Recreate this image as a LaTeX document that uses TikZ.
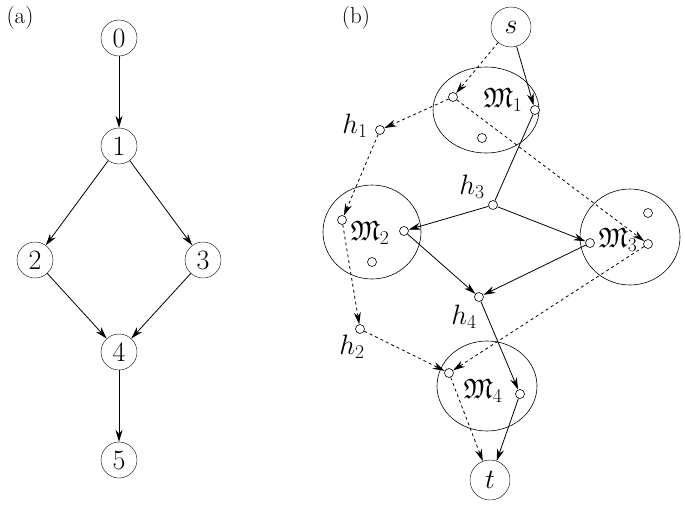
\RequirePackage{fix-cm}
\documentclass[tikz,border=0pt]{standalone}
\usepackage{amssymb}
\usetikzlibrary{arrows.meta}
\begin{document}
\begin{tikzpicture}[x=1pt,y=-1pt,
 big/.style={circle,draw,minimum size=36pt,inner sep=0pt,font=\fontsize{28}{28}\selectfont},
 sm/.style={circle,draw,fill=white,minimum size=9pt,inner sep=0pt,semithick},
 ar/.style={-{Stealth[length=12pt,width=7pt]},thick},
 da/.style={ar,dashed},
 lab/.style={font=\fontsize{28}{28}\selectfont}]
\useasboundingbox (0,0) rectangle (685,514);
\node[font=\fontsize{23}{23}\selectfont] (la) at (20,18) {(a)};
\node[font=\fontsize{23}{23}\selectfont] (lb) at (356,18) {(b)};
\node[big] (n0) at (119,38) {0};
\node[big] (n1) at (119,146) {1};
\node[big] (n2) at (35,260) {2};
\node[big] (n3) at (203,260) {3};
\node[big] (n4) at (119,352) {4};
\node[big] (n5) at (119,460) {5};
\foreach \a/\b in {n0/n1,n1/n2,n1/n3,n2/n4,n3/n4,n4/n5} \draw[ar] (\a) -- (\b);
% panel b
\node[big,minimum size=40pt] (s) at (511,27) {$s$};
\node[big,minimum size=40pt] (t) at (490,480) {$t$};
\draw[semithick] (486,110) ellipse [x radius=53,y radius=43];
\draw[semithick] (372,232) ellipse [x radius=49,y radius=47];
\draw[semithick] (630,237) ellipse [x radius=50,y radius=48];
\draw[semithick] (487,386) ellipse [x radius=50,y radius=45];
\node[lab] (m1) at (503,100) {$\mathfrak{M}_1$};
\node[lab] (m2) at (370,233) {$\mathfrak{M}_2$};
\node[lab] (m3) at (618,240) {$\mathfrak{M}_3$};
\node[lab] (m4) at (483,391) {$\mathfrak{M}_4$};
\node[sm] (a1) at (453,97) {}; \node[sm] (b1) at (535,110) {}; \node[sm] (c1) at (482,138) {};
\node[sm] (a2) at (342,220) {}; \node[sm] (b2) at (404,231) {}; \node[sm] (c2) at (372,262) {};
\node[sm] (a3) at (590,243) {}; \node[sm] (b3) at (648,244) {}; \node[sm] (c3) at (648,213) {};
\node[sm] (a4) at (449,373) {}; \node[sm] (b4) at (520,394) {};
\node[sm] (h1) at (380,130) {}; \node[sm] (h2) at (360,329) {};
\node[sm] (h3) at (493,205) {}; \node[sm] (h4) at (479,297) {};
\node[lab] (lh1) at (355,126) {$h_1$};
\node[lab] (lh3) at (472,187) {$h_3$};
\node[lab] (lh4) at (464,317) {$h_4$};
\node[lab] (lh2) at (352,347) {$h_2$};
\draw[thick] (b1) -- (h3);
\foreach \a/\b in {s/b1,h3/b2,h3/a3,b2/h4,a3/h4,h4/b4,b4/t} \draw[ar] (\a) -- (\b);
\foreach \a/\b in {s/a1,a1/h1,h1/a2,a1/b3,a2/h2,h2/a4,b3/a4,a4/t} \draw[da] (\a) -- (\b);
\end{tikzpicture}
\end{document}
